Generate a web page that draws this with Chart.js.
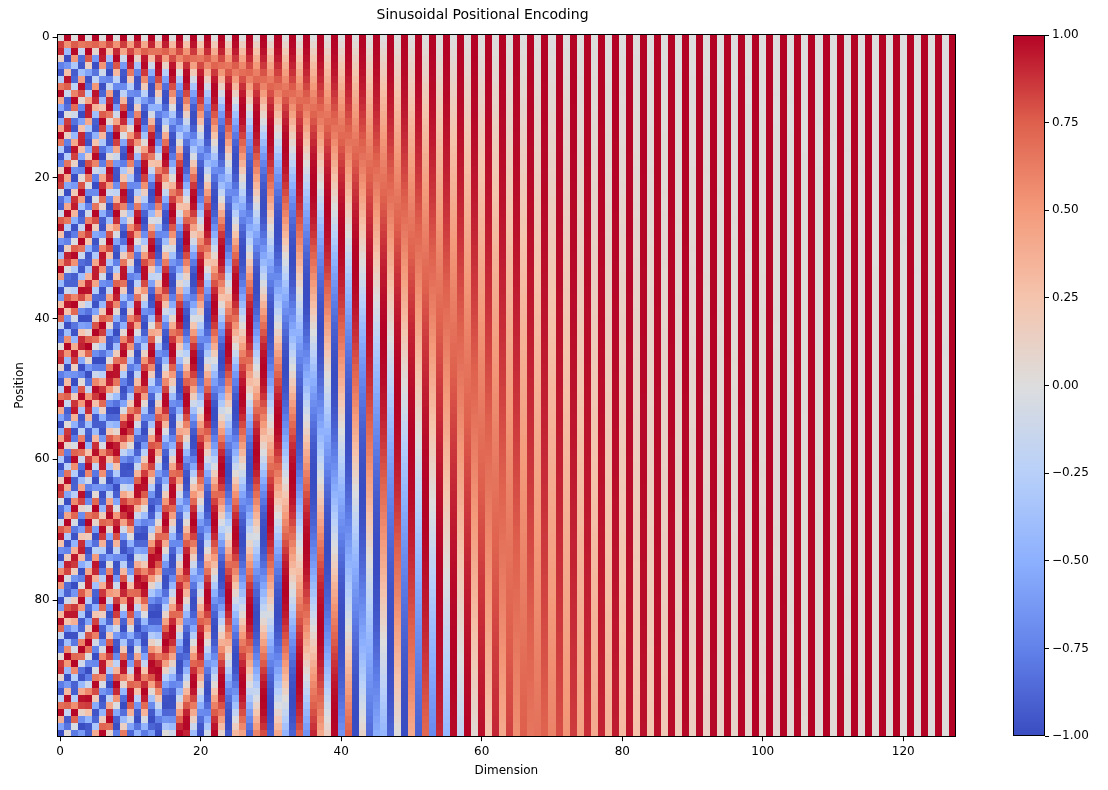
<!DOCTYPE html>
<html>
<head>
<meta charset="utf-8">
<script src="https://cdn.jsdelivr.net/npm/chart.js@4.4.1/dist/chart.umd.min.js"></script>
<style>
  body { margin: 0; background: #fff; }
  #main { position: absolute; left: 0; top: 0; width: 1000px; height: 790px; }
  #bar { position: absolute; left: 990px; top: 0; width: 118px; height: 790px; }
</style>
</head>
<body>
<div id="main"><canvas id="heat"></canvas></div>
<div id="bar"><canvas id="cbar"></canvas></div>
<script>
// picture parameters: 100 positions x 128 dims, standard base 10000
const positions = Array.from({ length: 100 }, (_, i) => i);
const dims = Array.from({ length: 128 }, (_, i) => i);
const base = 10000;
const xTicks = [0, 20, 40, 60, 80, 100, 120];
const yTicks = [0, 20, 40, 60, 80];
const cbTicks = [-1, -0.75, -0.5, -0.25, 0, 0.25, 0.5, 0.75, 1];

// coolwarm anchors
const cmap = [
  [58, 76, 193], [98, 130, 234], [141, 176, 254], [184, 208, 249], [221, 221, 221],
  [245, 196, 173], [244, 154, 123], [222, 96, 77], [180, 4, 38]
];

function colorFor(v) {
  const t = Math.min(1, Math.max(0, (v + 1) / 2)) * (cmap.length - 1);
  const i = Math.min(cmap.length - 2, Math.floor(t));
  const f = t - i;
  const a = cmap[i], b = cmap[i + 1];
  return `rgb(${Math.round(a[0] + (b[0] - a[0]) * f)},${Math.round(a[1] + (b[1] - a[1]) * f)},${Math.round(a[2] + (b[2] - a[2]) * f)})`;
}

const pe = positions.map(p => dims.map(d => {
  const k = d - (d % 2);
  const ang = p / Math.pow(base, k / dims.length);
  return d % 2 === 0 ? Math.sin(ang) : Math.cos(ang);
}));

const font = { family: 'DejaVu Sans', size: 12 };
const fmtMinus = v => String(v).replace('-', '\u2212');

function frame(chart) {
  const { ctx, chartArea: a } = chart;
  ctx.save();
  ctx.setLineDash([]);
  ctx.strokeStyle = '#000';
  ctx.lineWidth = 1;
  ctx.strokeRect(Math.round(a.left) + 0.5, Math.round(a.top) + 0.5, Math.round(a.right - a.left) - 1, Math.round(a.bottom - a.top) - 1);
  ctx.restore();
}

const heatPlugin = {
  id: 'heat',
  beforeDatasetsDraw(chart) {
    const { ctx, scales: { x, y } } = chart;
    positions.forEach((p, r) => {
      dims.forEach((d, c) => {
        const x0 = Math.round(x.getPixelForValue(d - 0.5)), x1 = Math.round(x.getPixelForValue(d + 0.5));
        const y0 = Math.round(y.getPixelForValue(p - 0.5)), y1 = Math.round(y.getPixelForValue(p + 0.5));
        ctx.fillStyle = colorFor(pe[r][c]);
        ctx.fillRect(x0, y0, x1 - x0, y1 - y0);
      });
    });
  },
  afterDraw: frame
};

const axisCommon = {
  grid: { display: true, drawOnChartArea: false, drawTicks: true, tickLength: 4, color: '#000' },
  border: { display: false },
  ticks: { color: '#000', font, autoSkip: false, maxRotation: 0 }
};

new Chart(document.getElementById('heat'), {
  type: 'scatter',
  data: { datasets: [{ data: [] }] },
  options: {
    responsive: true, maintainAspectRatio: false, animation: false,
    layout: { padding: { left: 9, right: 44, top: 0, bottom: 8 } },
    plugins: {
      legend: { display: false }, tooltip: { enabled: false },
      title: { display: true, text: 'Sinusoidal Positional Encoding', color: '#000',
        font: { family: 'DejaVu Sans', size: 14, weight: 'normal' }, padding: { top: 7, bottom: 10 } }
    },
    scales: {
      x: { ...axisCommon, type: 'linear', min: -0.5, max: 127.5,
        afterBuildTicks: s => { s.ticks = xTicks.map(v => ({ value: v })); },
        title: { display: true, text: 'Dimension', color: '#000', font: { family: 'DejaVu Sans', size: 12 }, padding: { top: 2 } } },
      y: { ...axisCommon, type: 'linear', reverse: true, min: -0.5, max: 99.5,
        afterBuildTicks: s => { s.ticks = yTicks.map(v => ({ value: v })); },
        title: { display: true, text: 'Position', color: '#000', font: { family: 'DejaVu Sans', size: 12 } } }
    }
  },
  plugins: [heatPlugin]
});

const cbarPlugin = {
  id: 'cbar',
  beforeDatasetsDraw(chart) {
    const { ctx, chartArea: a, scales: { y } } = chart;
    for (let py = Math.floor(a.top); py < a.bottom; py++) {
      ctx.fillStyle = colorFor(y.getValueForPixel(py + 0.5));
      ctx.fillRect(a.left, py, a.right - a.left, 1);
    }
  },
  afterDraw: frame
};

new Chart(document.getElementById('cbar'), {
  type: 'scatter',
  data: { datasets: [{ data: [] }] },
  options: {
    responsive: true, maintainAspectRatio: false, animation: false,
    layout: { padding: { left: 23, right: 0, top: 35, bottom: 54 } },
    plugins: { legend: { display: false }, tooltip: { enabled: false } },
    scales: {
      x: { display: false, min: 0, max: 1 },
      y: { ...axisCommon, position: 'right', min: -1, max: 1,
        afterFit: s => { s.width = 63; },
        afterBuildTicks: s => { s.ticks = cbTicks.map(v => ({ value: v })); },
        ticks: { ...axisCommon.ticks, callback: v => fmtMinus(v.toFixed(2)) } }
    }
  },
  plugins: [cbarPlugin]
});
</script>
</body>
</html>
